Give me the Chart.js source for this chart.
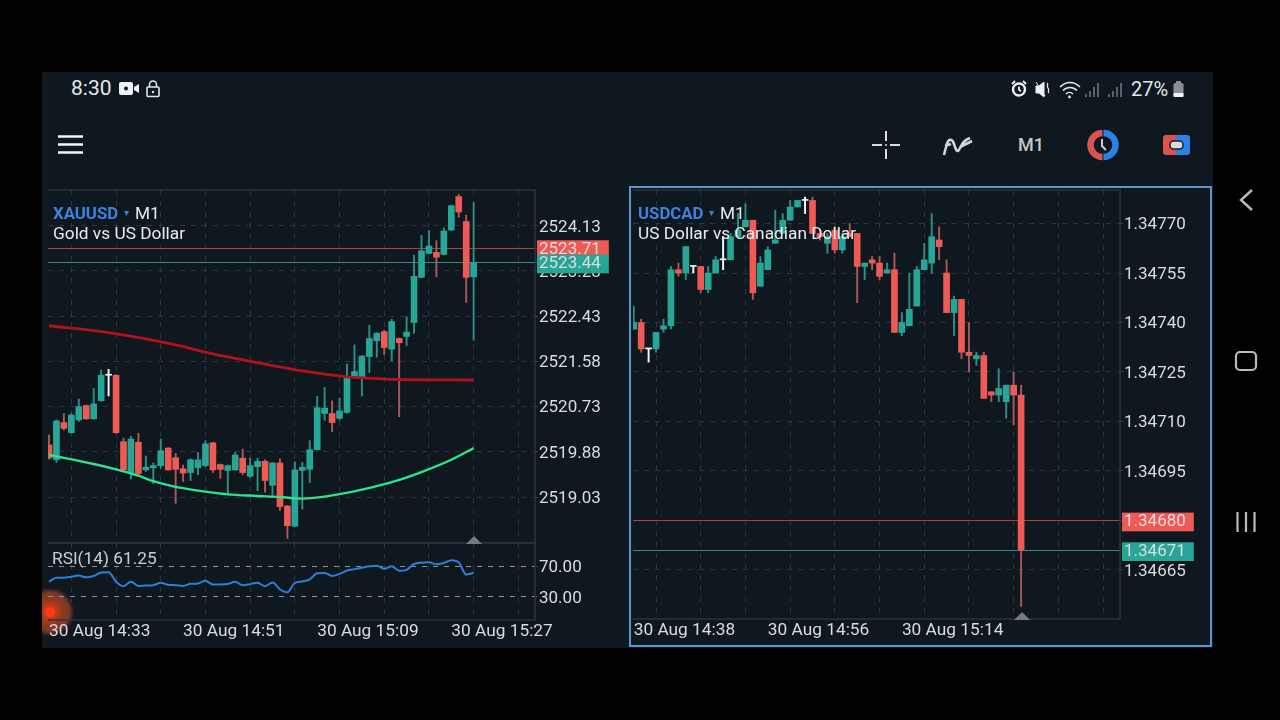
<!DOCTYPE html>
<html><head><meta charset="utf-8">
<script src="https://cdn.jsdelivr.net/npm/chart.js@4"></script>
<style>
html,body{margin:0;padding:0;background:#000;width:1280px;height:720px;overflow:hidden;font-family:Roboto,sans-serif}
#app{position:absolute;left:42px;top:72px;width:1171px;height:576px;background:#0f171f;overflow:hidden}
canvas{position:absolute;display:block}
#touch{position:absolute;left:-17px;top:515px;width:50px;height:50px;border-radius:50%;background:radial-gradient(circle at 50% 50%,#ff3a12 0 4px,#c23c1a 6px,#94391f 12px,#7a3a28 19px,rgba(60,40,35,.55) 23px,rgba(40,30,30,0) 25px)}
.t{position:absolute;white-space:nowrap;line-height:1;color:#e8ebee}
svg{position:absolute;left:0;top:0}
.tri{position:absolute;width:0;height:0;border-left:8px solid transparent;border-right:8px solid transparent;border-bottom:8px solid #757b80}
#focus{position:absolute;left:629px;top:186px;width:579px;height:457px;border:2px solid #5f93c9;box-sizing:content-box;pointer-events:none}
</style></head><body>
<div id="app"><div id="touch"></div></div>
<canvas id="leftMain" width="565" height="355" style="left:48px;top:188px"></canvas>
<canvas id="leftRsi" width="565" height="107" style="left:48px;top:541px"></canvas>
<canvas id="rightMain" width="572" height="458" style="left:633px;top:188px"></canvas>
<div id="focus"></div>
<div class="tri" style="left:466px;top:536px"></div>
<div class="tri" style="left:1014px;top:612px"></div>

<div class="t" style="left:71px;top:78px;font-size:21px;color:#e6e9ec">8:30</div>
<div class="t" style="left:1131px;top:79px;font-size:20px;color:#e6e9ec">27%</div>
<div class="t" style="left:1018px;top:136px;font-size:18px;font-weight:500;color:#c4c9cd">M1</div>
<div class="t" style="left:53px;top:205px;font-size:16.8px;font-weight:700;color:#3f82dd">XAUUSD</div>
<div class="t" style="left:124px;top:208px;font-size:10px;color:#3f82dd">▾</div>
<div class="t" style="left:135px;top:205px;font-size:17.3px">M1</div>
<div class="t" style="left:53px;top:225px;font-size:17.3px">Gold vs US Dollar</div>
<div class="t" style="left:52px;top:550px;font-size:17.3px;color:#c9ced2">RSI(14) 61.25</div>
<div class="t" style="left:638px;top:205px;font-size:16.8px;font-weight:700;color:#3f82dd">USDCAD</div>
<div class="t" style="left:709px;top:208px;font-size:10px;color:#3f82dd">▾</div>
<div class="t" style="left:720px;top:205px;font-size:17.3px">M1</div>
<div class="t" style="left:638px;top:225px;font-size:17.3px">US Dollar vs Canadian Dollar</div>

<svg width="1280" height="720" fill="none">
  <g stroke="#f2f4f6" stroke-width="2.6"><path d="M58 136.5H83M58 144.5H83M58 152.5H83"/></g>
  <g fill="#eef0f2"><rect x="119" y="82" width="14" height="13" rx="2"/><path d="M134 87l5-3v9l-5-3z"/></g><circle cx="126" cy="88.5" r="2" fill="#0f171f"/>
  <g stroke="#e4e7ea" stroke-width="1.6"><rect x="147" y="87" width="12" height="9.5" rx="1"/><path d="M149.5 87v-2.5a3.5 3.5 0 0 1 7 0V87"/></g><circle cx="153" cy="92" r="1.2" fill="#e4e7ea"/>
  <circle cx="1019" cy="89.5" r="6" stroke="#eef0f2" stroke-width="2.4"/><path d="M1019 86.5v3.3l2 1.4M1012 84l3-3M1026 84l-3-3" stroke="#eef0f2" stroke-width="1.8"/>
  <path d="M1036 86h3l5-4v15l-5-4h-3zM1036 82l9 14" fill="#eef0f2" stroke="#eef0f2"/><path d="M1047 83c2 2-1 3 1 5s-1 3 1 5" stroke="#dfe2e5" stroke-width="1.3"/>
  <path d="M1060 87c6-6 14-6 20 0M1063 90.5c4-4 10-4 14 0M1066 94c2-2 5-2 7 0" stroke="#e4e7ea" stroke-width="1.6"/><circle cx="1069.5" cy="97" r="1.4" fill="#e4e7ea"/>
  <g stroke="#6e7479" stroke-width="1.6"><path d="M1086 97v-3M1090 97v-6M1094 97v-10M1098 97v-14"/><path d="M1109 97v-3M1113 97v-6M1117 97v-10M1121 97v-14"/></g>
  <rect x="1173.5" y="83" width="10" height="14" rx="1.5" fill="#8a8f93"/><rect x="1176" y="81" width="5" height="2" fill="#8a8f93"/><rect x="1173.5" y="93" width="10" height="4" rx="1" fill="#f2f2f2"/>
  <g stroke="#d9dde0" stroke-width="2"><path d="M872 145h10M890 145h10M886 131v10M886 149v10"/></g><circle cx="886" cy="145" r="1" fill="#d9dde0"/>
  <path d="M944 155l2-8c2-9 6-9 8-3s3 10 6 4 5-8 10-10M945 146l6-2M960 147l12-6" stroke="#d3d7da" stroke-width="2.6"/>
  <path d="M1103 133a12 12 0 0 0 0 24" stroke="#d9534f" stroke-width="6.5" transform="translate(-0.5 0)"/>
  <path d="M1103 133a12 12 0 0 1 0 24" stroke="#2f80e6" stroke-width="6.5" transform="translate(0.5 0)"/>
  <path d="M1102 139v7l4 4" stroke="#c9ced2" stroke-width="2"/>
  <path d="M1176 135h-10a3 3 0 0 0-3 3v14a3 3 0 0 0 3 3h10z" fill="#d9534f"/><path d="M1176 135h11a3 3 0 0 1 3 3v14a3 3 0 0 1-3 3h-11z" fill="#2f80e6"/>
  <rect x="1170" y="141" width="13" height="8" rx="3.5" fill="#d8dbde" stroke="#1b222a" stroke-width="1.5"/>
  <path d="M1252 190l-11 10 11 10" stroke="#b9bcbf" stroke-width="2.4"/>
  <rect x="1236" y="352" width="20" height="18" rx="4" stroke="#b9bcbf" stroke-width="2.2"/>
  <path d="M1237.5 512v20M1246 512v20M1254.5 512v20" stroke="#b9bcbf" stroke-width="2.2"/>
</svg>

<script>
const leftOpen=[2520.01,2519.73,2520.43,2520.24,2520.48,2520.75,2520.50,2520.84,2521.32,2521.32,2520.07,2519.48,2520.06,2519.54,2519.58,2519.62,2519.95,2519.77,2519.56,2519.49,2519.58,2519.62,2520.05,2519.64,2519.53,2519.54,2519.76,2519.42,2519.60,2519.70,2519.25,2519.67,2518.86,2518.48,2519.53,2519.55,2519.92,2520.60,2520.60,2520.51,2520.62,2521.29,2521.29,2521.67,2521.97,2522.14,2521.81,2522.01,2522.05,2522.31,2523.16,2523.61,2523.63,2523.59,2524.05,2524.68,2524.21,2523.17];
const leftHigh=[2520.20,2520.48,2520.60,2520.60,2520.87,2520.76,2521.07,2521.42,2521.43,2521.33,2520.14,2520.17,2520.23,2519.80,2519.67,2520.12,2519.96,2519.85,2519.63,2519.75,2519.87,2520.09,2520.06,2519.65,2519.63,2519.87,2519.93,2519.76,2519.76,2519.73,2519.68,2519.75,2518.87,2519.69,2519.68,2520.09,2520.92,2521.09,2520.84,2520.89,2521.53,2521.89,2521.69,2522.26,2522.12,2522.17,2522.37,2522.02,2522.42,2523.58,2523.95,2524.04,2523.85,2524.09,2524.52,2524.72,2524.33,2524.57];
const leftLow=[2519.74,2519.68,2520.29,2520.23,2520.45,2520.49,2520.49,2520.83,2520.93,2520.23,2519.51,2519.37,2519.45,2519.51,2519.28,2519.57,2519.53,2518.91,2519.32,2519.34,2519.45,2519.60,2519.49,2519.38,2519.10,2519.53,2519.45,2519.40,2519.15,2519.12,2519.04,2518.78,2518.25,2518.47,2518.80,2519.30,2519.91,2520.47,2520.26,2520.48,2520.60,2521.26,2520.93,2521.37,2521.66,2521.71,2521.59,2520.54,2521.88,2522.11,2523.15,2523.60,2523.17,2523.58,2524.04,2524.29,2522.69,2521.98];
const leftClose=[2519.76,2520.46,2520.32,2520.57,2520.73,2520.50,2520.78,2521.32,2521.32,2520.24,2519.54,2520.12,2519.47,2519.59,2519.62,2519.90,2519.54,2519.55,2519.48,2519.73,2519.73,2520.03,2519.54,2519.55,2519.62,2519.82,2519.49,2519.62,2519.70,2519.34,2519.67,2518.85,2518.49,2519.54,2519.59,2519.92,2520.71,2520.70,2520.43,2520.65,2521.26,2521.39,2521.68,2522.01,2522.11,2521.84,2522.33,2521.93,2522.13,2523.18,2523.66,2523.75,2523.54,2524.03,2524.51,2524.39,2523.16,2523.44];
const redMaIndex=[0,8,17,22,26,34,40,42,47,57];
const redMaValues=[2522.25,2522.12,2521.89,2521.72,2521.61,2521.40,2521.29,2521.27,2521.24,2521.23];
const greenMaIndex=[0,6,9,12,14,17,20,24,28,31,34,38,42,46,50,54,57];
const greenMaValues=[2519.82,2519.65,2519.55,2519.43,2519.33,2519.22,2519.15,2519.08,2519.05,2519.03,2519.00,2519.06,2519.17,2519.31,2519.50,2519.73,2519.95];
const rsiValues=[49.6,54.9,54.9,56.2,57.6,55.3,57.1,61.6,62.0,49.6,43.8,49.6,44.2,44.7,45.1,48.2,45.6,45.1,44.2,46.9,47.4,50.9,46.0,46.0,46.5,49.6,45.1,46.5,48.2,43.8,48.7,39.8,35.8,48.2,50.0,52.7,60.7,61.1,57.1,59.8,64.2,66.0,67.8,69.6,70.4,66.4,69.6,63.8,65.1,72.7,74.4,74.9,72.2,74.0,77.5,74.9,58.9,61.25];
const leftPriceTicks=[2524.13,2523.28,2522.43,2521.58,2520.73,2519.88,2519.03];
const leftAsk=2523.71, leftBid=2523.44;
const rsiTicks=[70,30];
const leftTimeLabels=['30 Aug 14:33','30 Aug 14:51','30 Aug 15:09','30 Aug 15:27'];

const rightOpen=[1.34738,1.34740,1.34732,1.34732,1.34738,1.34739,1.34756,1.34755,1.34757,1.34757,1.34750,1.34755,1.34759,1.34759,1.34766,1.34769,1.34771,1.34751,1.34756,1.34764,1.34767,1.34771,1.34775,1.34777,1.34777,1.34767,1.34764,1.34768,1.34762,1.34767,1.34767,1.34757,1.34759,1.34758,1.34755,1.34756,1.34737,1.34739,1.34745,1.34756,1.34758,1.34765,1.34755,1.34743,1.34747,1.34731,1.34729,1.34730,1.34719,1.34718,1.34716,1.34721,1.34718];
const rightHigh=[1.34745,1.34741,1.34732,1.34737,1.34741,1.34757,1.34758,1.34763,1.34757,1.34757,1.34757,1.34760,1.34766,1.34767,1.34773,1.34776,1.34771,1.34760,1.34763,1.34774,1.34773,1.34777,1.34777,1.34778,1.34778,1.34768,1.34767,1.34769,1.34767,1.34770,1.34767,1.34758,1.34760,1.34760,1.34758,1.34761,1.34743,1.34755,1.34757,1.34764,1.34773,1.34769,1.34759,1.34748,1.34747,1.34740,1.34731,1.34731,1.34719,1.34726,1.34721,1.34725,1.34721];
const rightLow=[1.34738,1.34731,1.34728,1.34731,1.34737,1.34738,1.34754,1.34753,1.34755,1.34749,1.34749,1.34755,1.34756,1.34759,1.34766,1.34769,1.34747,1.34751,1.34756,1.34764,1.34767,1.34771,1.34775,1.34773,1.34767,1.34765,1.34761,1.34761,1.34761,1.34766,1.34746,1.34753,1.34756,1.34753,1.34755,1.34737,1.34736,1.34739,1.34745,1.34756,1.34755,1.34759,1.34743,1.34736,1.34729,1.34725,1.34727,1.34717,1.34716,1.34716,1.34711,1.34709,1.34654];
const rightClose=[1.34740,1.34732,1.34732,1.34737,1.34739,1.34756,1.34755,1.34763,1.34757,1.34750,1.34755,1.34759,1.34759,1.34766,1.34768,1.34771,1.34749,1.34758,1.34762,1.34765,1.34771,1.34775,1.34777,1.34777,1.34767,1.34766,1.34766,1.34762,1.34766,1.34766,1.34757,1.34758,1.34758,1.34754,1.34756,1.34737,1.34740,1.34744,1.34756,1.34759,1.34766,1.34763,1.34743,1.34747,1.34731,1.34730,1.34730,1.34717,1.34718,1.34720,1.34721,1.34718,1.34671];
const rightPriceTicks=[1.34770,1.34755,1.34740,1.34725,1.34710,1.34695,1.34665];
const rightAsk=1.34680, rightBid=1.34671;
const rightTimeLabels=['30 Aug 14:38','30 Aug 14:56','30 Aug 15:14'];

const minuteGrid=[0,6,12,18,24,30,36,42,48,54,60];

const UP='#27a596', DOWN='#ee5a55', DOJI='#f4f6f8';
const GRID='#2c3540', FRAME='#2b343e', TICK='#d9dde0';
const font={family:'Roboto',size:17,lineHeight:1.1};
const xFont={family:'Roboto',size:17.3,lineHeight:1.1};

const framePlugin={id:'frame',beforeDatasetsDraw(c){
  const a=c.chartArea,g=c.ctx;g.save();g.strokeStyle=FRAME;g.lineWidth=1.6;
  g.beginPath();g.moveTo(a.left-4,a.top);g.lineTo(a.right,a.top);g.lineTo(a.right,a.bottom);g.lineTo(a.left-4,a.bottom);g.stroke();g.restore();
}};

function zeroPad(s){s.paddingTop=s.paddingBottom=s.paddingLeft=s.paddingRight=0;}

function xScale(xMin,xMax,labels,axisHeight){
  return {type:'linear',min:xMin,max:xMax,offset:false,
    afterBuildTicks(s){s.ticks=minuteGrid.map(v=>({value:v}));},
    afterFit(s){s.height=axisHeight;zeroPad(s);},
    grid:{color:GRID,lineWidth:1,drawTicks:false},
    border:{display:false,dash:[5,6]},
    ticks:{display:labels.length>0,align:'start',autoSkip:false,maxRotation:0,minRotation:0,padding:2,color:TICK,font:xFont,
      callback(v){return labels[v/18]||'';}}};
}
function yScale(yMin,yMax,ticks,ask,bid,digits,width,dashColor){
  return {position:'right',min:yMin,max:yMax,
    afterBuildTicks(s){s.ticks=ticks.concat(ask==null?[]:[ask,bid]).map(v=>({value:v}));},
    afterFit(s){s.width=width;zeroPad(s);},
    grid:{tickLength:3,lineWidth:1,color(c){return c.tick.value===ask?'#b0403e':c.tick.value===bid?'#2b8f84':dashColor;},tickColor:'#39424c'},
    border:{display:false,dash(c){return (c.tick.value===ask||c.tick.value===bid)?[]:[5,6];}},
    ticks:{autoSkip:false,padding:1,labelOffset:1.5,color:TICK,font,
      callback(v){return v.toFixed(digits);},
      showLabelBackdrop(c){return c.tick.value===ask||c.tick.value===bid;},
      backdropColor(c){return c.tick.value===ask?DOWN:'#27a596';},
      backdropPadding:{left:2,right:8,top:0,bottom:0}}};
}
function candleSets(o,h,l,c){
  const idx=o.map((_,i)=>i);
  const col=idx.map(i=>c[i]>o[i]?UP:c[i]<o[i]?DOWN:DOJI);
  const wickCol=idx.map(i=>c[i]>o[i]?'#2f8d83':c[i]<o[i]?'#a8595a':DOJI);
  return [
    {type:'bar',order:2,grouped:false,barThickness:1.3,backgroundColor:wickCol,data:idx.map(i=>({x:i,y:[l[i],h[i]]}))},
    {type:'bar',order:1,grouped:false,barThickness:6,minBarLength:1,backgroundColor:col,data:idx.map(i=>({x:i,y:[o[i],c[i]]}))}
  ];
}
function line(xs,ys,color,w,order){
  return {type:'line',order,borderColor:color,borderWidth:w,pointRadius:0,cubicInterpolationMode:'monotone',data:xs.map((x,i)=>({x,y:ys[i]}))};
}
function make(id,datasets,x,y){
  return new Chart(document.getElementById(id),{type:'bar',data:{datasets},plugins:[framePlugin],options:{
    responsive:false,animation:false,devicePixelRatio:1,
    layout:{padding:{top:2,left:0,right:0,bottom:0}},
    plugins:{legend:{display:false},tooltip:{enabled:false}},
    scales:{x,y}}});
}
make('leftMain',[
  line(redMaIndex,redMaValues,'#b3111f',2.8,0),
  line(greenMaIndex,greenMaValues,'#2de38c',2.4,0),
  ...candleSets(leftOpen,leftHigh,leftLow,leftClose)],
  xScale(-0.134,65.236,[],0),
  yScale(2518.165,2524.803,leftPriceTicks,leftAsk,leftBid,2,78,GRID));
make('leftRsi',[line(rsiValues.map((_,i)=>i),rsiValues,'#2f7fd6',2,0)],
  xScale(-0.134,65.236,leftTimeLabels,28),
  yScale(-0.2,100,rsiTicks,null,null,2,78,'#8c9298'));
make('rightMain',candleSets(rightOpen,rightHigh,rightLow,rightClose),
  xScale(-0.094,65.276,rightTimeLabels,27),
  yScale(1.3465014,1.3478016,rightPriceTicks,rightAsk,rightBid,5,85,GRID));
</script>
</body></html>
